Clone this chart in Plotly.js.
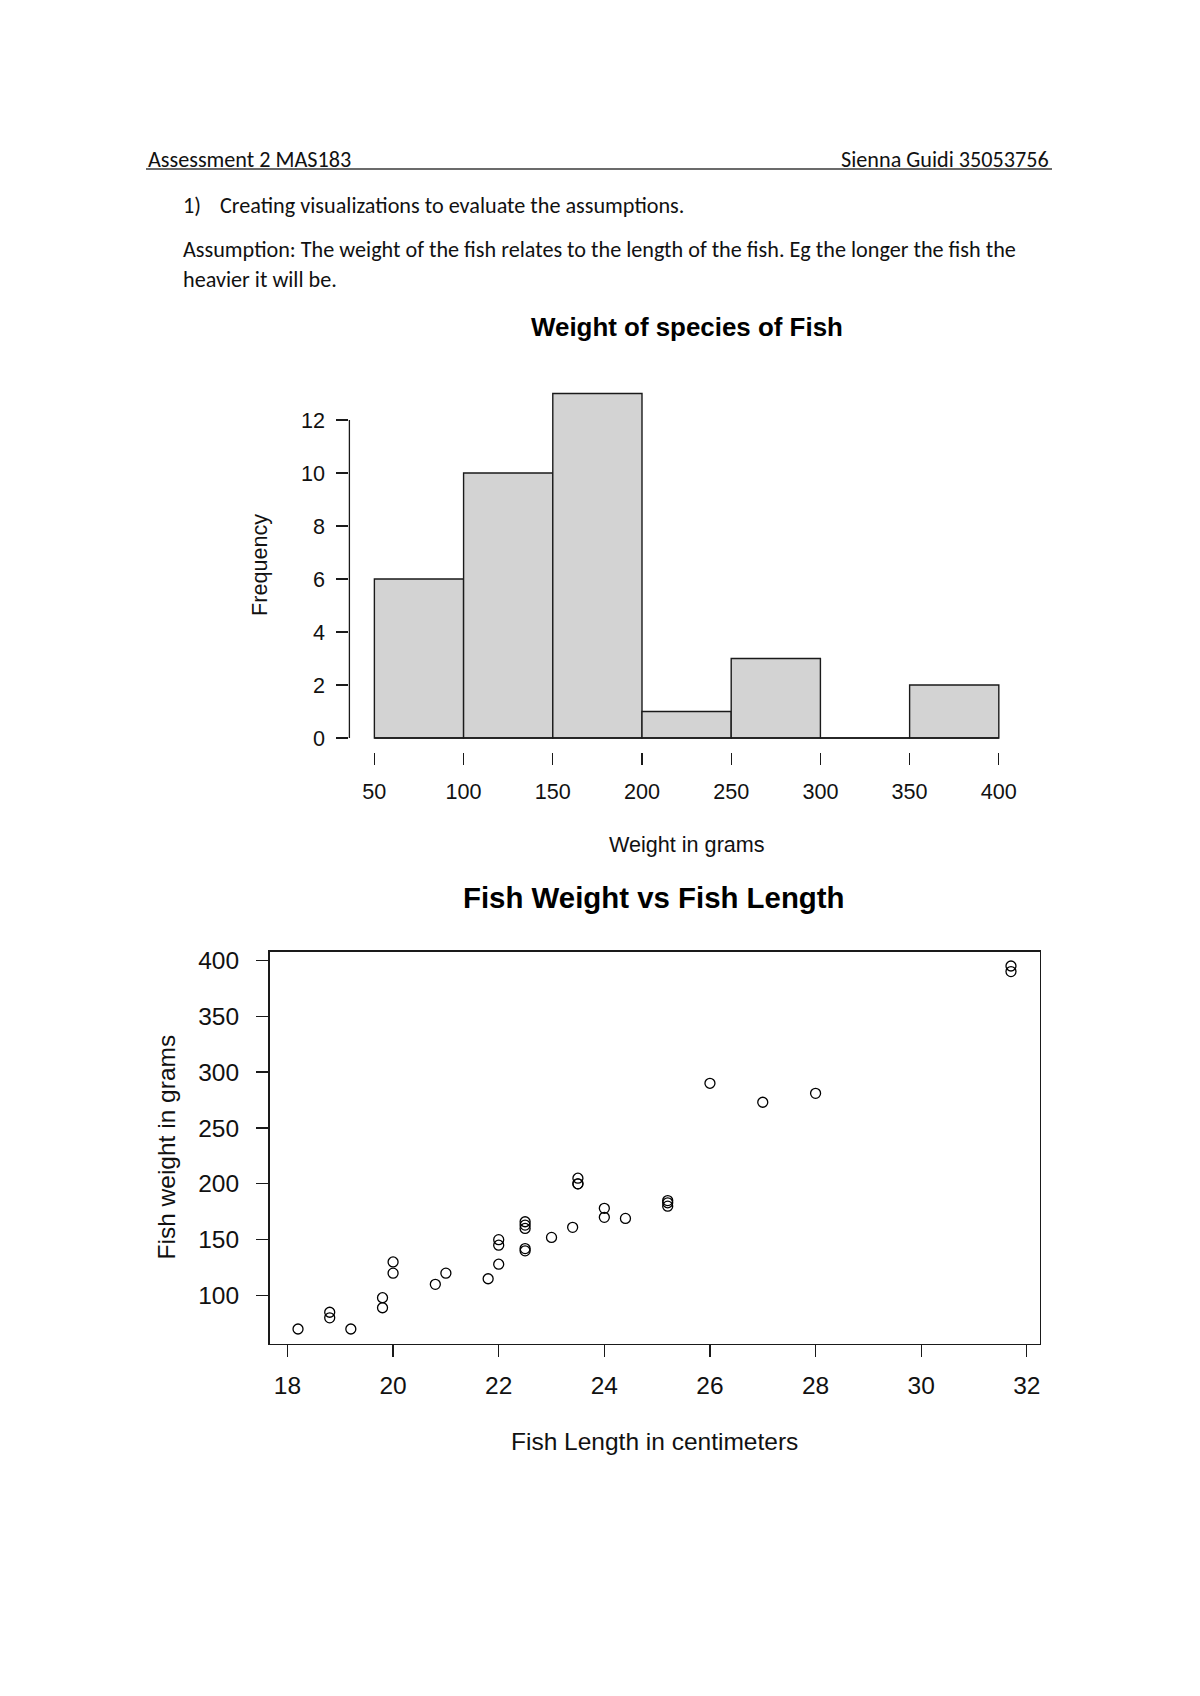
<!DOCTYPE html>
<html>
<head>
<meta charset="utf-8">
<script src="https://cdn.plot.ly/plotly-3.0.1.min.js"></script>
<style>
  html, body { margin: 0; padding: 0; background: #ffffff; }
  #page { width: 1200px; height: 1696px; }
</style>
</head>
<body>
<div id="page"></div>
<script>
// Histogram of fish weights: bin edges (grams) and counts per bin
const binEdges = [50, 100, 150, 200, 250, 300, 350, 400];
const binCounts = [6, 10, 13, 1, 3, 0, 2];
const freqTicks = [0, 2, 4, 6, 8, 10, 12];

// Individual fish: length (cm) and weight (g)
const lengthCm = [18.2, 18.8, 18.8, 19.2, 19.8, 19.8, 20.0, 20.0, 20.8, 21.0,
                  21.8, 22.0, 22.0, 22.0, 22.5, 22.5, 22.5, 22.5, 22.5, 23.0,
                  23.4, 23.5, 23.5, 23.5, 24.0, 24.0, 24.4, 25.2, 25.2, 25.2,
                  26.0, 27.0, 28.0, 31.7, 31.7];
const weightG = [70, 85, 80, 70, 98, 89, 130, 120, 110, 120,
                 115, 128, 150, 145, 166, 163, 160, 142, 140, 152,
                 161, 205, 200, 200, 178, 170, 169, 185, 183, 180,
                 290, 273, 281, 395, 390];
const lengthTicks = [18, 20, 22, 24, 26, 28, 30, 32];
const weightTicks = [100, 150, 200, 250, 300, 350, 400];

// Document text
const headerLeft = "Assessment 2 MAS183";
const headerRight = "Sienna Guidi 35053756";
const itemNumber = "1)";
const itemText = "Creating visualizations to evaluate the assumptions.";
const assumptionLine1 = "Assumption: The weight of the fish relates to the length of the fish. Eg the longer the fish the";
const assumptionLine2 = "heavier it will be.";
const histTitle = "Weight of species of Fish";
const histXLabel = "Weight in grams";
const histYLabel = "Frequency";
const scatTitle = "Fish Weight vs Fish Length";
const scatXLabel = "Fish Length in centimeters";
const scatYLabel = "Fish weight in grams";

const W = 1200, H = 1696;
const px = x => x / W;
const py = y => 1 - y / H;

const docFont = { family: "Carlito, Lato, 'Open Sans', sans-serif", size: 22.2, color: "#111111" };
const rFont = "'Liberation Sans', Arial, sans-serif";
const histBase = 21.6, scatBase = 24.5;

// Bars built from consecutive bin edges
const barMid = binCounts.map((_, i) => (binEdges[i] + binEdges[i + 1]) / 2);
const barWidth = binCounts.map((_, i) => binEdges[i + 1] - binEdges[i]);

const histTrace = {
  type: "bar",
  x: barMid,
  y: binCounts,
  width: barWidth,
  marker: { color: "#d3d3d3", line: { color: "#1a1a1a", width: 1.4 } },
  xaxis: "x", yaxis: "y",
  hoverinfo: "x+y",
  showlegend: false
};

const scatTrace = {
  type: "scatter",
  mode: "markers",
  x: lengthCm,
  y: weightG,
  marker: { symbol: "circle-open", size: 10, color: "#000000", line: { width: 1.3, color: "#000000" } },
  xaxis: "x2", yaxis: "y2",
  showlegend: false
};

// 4% padding on each side of the data range, as in base R plots
function padRange(lo, hi) { const d = (hi - lo) * 0.04; return [lo - d, hi + d]; }
const histXRange = padRange(binEdges[0], binEdges[binEdges.length - 1]);
const histYRange = padRange(0, Math.max(...binCounts));
const scatXRange = padRange(Math.min(...lengthCm), Math.max(...lengthCm));
const scatYRange = padRange(Math.min(...weightG), Math.max(...weightG));

const layout = {
  width: W, height: H,
  margin: { l: 0, r: 0, t: 0, b: 0, pad: 0 },
  paper_bgcolor: "#ffffff",
  plot_bgcolor: "#ffffff",
  showlegend: false,
  bargap: 0,
  xaxis: {
    domain: [px(349.4), px(1023.8)],
    anchor: "y",
    range: histXRange,
    tickmode: "array", tickvals: binEdges, ticktext: binEdges.map(String),
    ticks: "outside", ticklen: 12, tickwidth: 1.3, tickcolor: "#1a1a1a",
    ticklabelstandoff: 8,
    showline: false, showgrid: false, zeroline: false,
    tickfont: { family: rFont, size: histBase, color: "#111111" },
    fixedrange: true
  },
  yaxis: {
    domain: [py(751.8), py(379.7)],
    anchor: "x",
    range: histYRange,
    tickmode: "array", tickvals: freqTicks, ticktext: freqTicks.map(String),
    ticks: "outside", ticklen: 12, tickwidth: 1.3, tickcolor: "#1a1a1a",
    ticklabelstandoff: 7,
    showline: false, showgrid: false, zeroline: false,
    tickfont: { family: rFont, size: histBase, color: "#111111" },
    fixedrange: true
  },
  xaxis2: {
    domain: [px(269.5), px(1039.5)],
    anchor: "y2",
    range: scatXRange,
    tickmode: "array", tickvals: lengthTicks, ticktext: lengthTicks.map(String),
    ticks: "outside", ticklen: 12, tickwidth: 1.3, tickcolor: "#1a1a1a",
    ticklabelstandoff: 8,
    showline: true, mirror: true, linecolor: "#1a1a1a", linewidth: 1.5,
    showgrid: false, zeroline: false,
    tickfont: { family: rFont, size: scatBase, color: "#111111" },
    fixedrange: true
  },
  yaxis2: {
    domain: [py(1343.5), py(951.5)],
    anchor: "x2",
    range: scatYRange,
    tickmode: "array", tickvals: weightTicks, ticktext: weightTicks.map(String),
    ticks: "outside", ticklen: 12, tickwidth: 1.3, tickcolor: "#1a1a1a",
    ticklabelstandoff: 12,
    showline: true, mirror: true, linecolor: "#1a1a1a", linewidth: 1.5,
    showgrid: false, zeroline: false,
    tickfont: { family: rFont, size: scatBase, color: "#111111" },
    fixedrange: true
  },
  shapes: [
    // header underline
    { type: "line", xref: "paper", yref: "paper", x0: px(146), x1: px(1052), y0: py(169), y1: py(169),
      line: { color: "#3a3a3a", width: 1.3 } },
    // histogram frequency axis line, from first to last tick
    { type: "line", xref: "x domain", yref: "y", x0: 0, x1: 0,
      y0: freqTicks[0], y1: freqTicks[freqTicks.length - 1],
      line: { color: "#1a1a1a", width: 1.3 } },
    // baseline of the bars across all bins
    { type: "line", xref: "x", yref: "y", x0: binEdges[0], x1: binEdges[binEdges.length - 1], y0: 0, y1: 0,
      line: { color: "#1a1a1a", width: 1.4 } }
  ],
  annotations: [
    { text: headerLeft, xref: "paper", yref: "paper", x: px(146), y: py(159), xanchor: "left", yanchor: "middle",
      showarrow: false, font: docFont },
    { text: headerRight, xref: "paper", yref: "paper", x: px(1051), y: py(159), xanchor: "right", yanchor: "middle",
      showarrow: false, font: docFont },
    { text: itemNumber, xref: "paper", yref: "paper", x: px(181), y: py(205), xanchor: "left", yanchor: "middle",
      showarrow: false, font: docFont },
    { text: itemText, xref: "paper", yref: "paper", x: px(217.5), y: py(205), xanchor: "left", yanchor: "middle",
      showarrow: false, font: docFont },
    { text: assumptionLine1, xref: "paper", yref: "paper", x: px(181), y: py(250), xanchor: "left", yanchor: "middle",
      showarrow: false, font: docFont },
    { text: assumptionLine2, xref: "paper", yref: "paper", x: px(181), y: py(279), xanchor: "left", yanchor: "middle",
      showarrow: false, font: docFont },

    { text: "<b>" + histTitle + "</b>", xref: "paper", yref: "paper", x: px(686.5), y: py(327), xanchor: "center", yanchor: "middle",
      showarrow: false, font: { family: rFont, size: histBase * 1.2, color: "#000000" } },
    { text: histXLabel, xref: "paper", yref: "paper", x: px(686.5), y: py(844), xanchor: "center", yanchor: "middle",
      showarrow: false, font: { family: rFont, size: histBase, color: "#111111" } },
    { text: histYLabel, xref: "paper", yref: "paper", x: px(260), y: py(565), xanchor: "center", yanchor: "middle",
      textangle: -90, showarrow: false, font: { family: rFont, size: histBase, color: "#111111" } },

    { text: "<b>" + scatTitle + "</b>", xref: "paper", yref: "paper", x: px(654), y: py(897), xanchor: "center", yanchor: "middle",
      showarrow: false, font: { family: rFont, size: scatBase * 1.2, color: "#000000" } },
    { text: scatXLabel, xref: "paper", yref: "paper", x: px(654), y: py(1441), xanchor: "center", yanchor: "middle",
      showarrow: false, font: { family: rFont, size: scatBase, color: "#111111" } },
    { text: scatYLabel, xref: "paper", yref: "paper", x: px(165.5), y: py(1147), xanchor: "center", yanchor: "middle",
      textangle: -90, showarrow: false, font: { family: rFont, size: scatBase, color: "#111111" } }
  ]
};

Plotly.newPlot("page", [histTrace, scatTrace], layout, { displayModeBar: false, staticPlot: true });
</script>
</body>
</html>
